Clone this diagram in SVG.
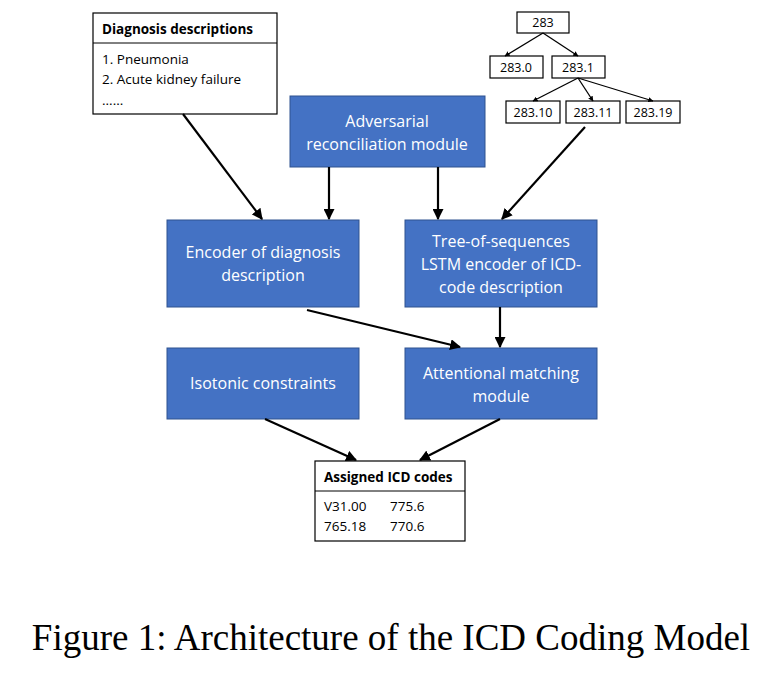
<svg xmlns="http://www.w3.org/2000/svg" width="758" height="674" viewBox="0 0 758 674">
<defs>
<marker id="ah" viewBox="0 0 10 10" refX="9" refY="5" markerWidth="5" markerHeight="5" orient="auto"><path d="M0,0 L10,5 L0,10 z" fill="#000"/></marker>
<marker id="sh" viewBox="0 0 10 10" refX="9" refY="5" markerWidth="4" markerHeight="4" orient="auto"><path d="M0,0 L10,5 L0,10 z" fill="#000"/></marker>
<style>
.blue{fill:#4472C4;stroke:#2F528F;stroke-width:1}
.bt{font-family:"Open Sans","DejaVu Sans",sans-serif;font-size:16px;fill:#fff;text-anchor:middle}
.box{fill:#fff;stroke:#000;stroke-width:1.2}
.t{font-family:"Open Sans","DejaVu Sans",sans-serif;font-size:13.5px;fill:#000}
.tt{font-family:"Open Sans","DejaVu Sans",sans-serif;font-size:12.5px;fill:#000;text-anchor:middle}
.c{stroke:#000;stroke-width:2.2;fill:none;marker-end:url(#ah)}
.s{stroke:#000;stroke-width:1.3;fill:none;marker-end:url(#sh)}
</style>
</defs>
<rect width="758" height="674" fill="#fff"/>
<g id="diag"><rect class="box" x="93" y="13" width="184" height="101"/><line x1="93" y1="43" x2="277" y2="43" stroke="#000"/>
<text class="t" x="102" y="34" font-weight="bold">Diagnosis descriptions</text>
<text class="t" x="102" y="64">1. Pneumonia</text><text class="t" x="102" y="84">2. Acute kidney failure</text><text class="t" x="102" y="105">......</text></g>
<g id="tree">
<rect class="box" x="517" y="12" width="52" height="21"/><text class="tt" x="543" y="27">283</text>
<rect class="box" x="490" y="56" width="53" height="22"/><text class="tt" x="516" y="72">283.0</text>
<rect class="box" x="552" y="56" width="53" height="22"/><text class="tt" x="578" y="72">283.1</text>
<rect class="box" x="506" y="101" width="54" height="22"/><text class="tt" x="533" y="117">283.10</text>
<rect class="box" x="566" y="101" width="54" height="22"/><text class="tt" x="593" y="117">283.11</text>
<rect class="box" x="626" y="101" width="54" height="22"/><text class="tt" x="653" y="117">283.19</text>
</g>
<g id="adv"><rect class="blue" x="290" y="96" width="195" height="71"/><text class="bt" x="387" y="127">Adversarial</text><text class="bt" x="387" y="150">reconciliation module</text></g>
<g id="enc"><rect class="blue" x="167" y="220" width="192" height="87"/><text class="bt" x="263" y="258">Encoder of diagnosis</text><text class="bt" x="263" y="281">description</text></g>
<g id="tos"><rect class="blue" x="405" y="220" width="192" height="87"/><text class="bt" x="501" y="247">Tree-of-sequences</text><text class="bt" x="501" y="270">LSTM encoder of ICD-</text><text class="bt" x="501" y="293">code description</text></g>
<g id="iso"><rect class="blue" x="167" y="348" width="192" height="71"/><text class="bt" x="263" y="389">Isotonic constraints</text></g>
<g id="att"><rect class="blue" x="405" y="348" width="192" height="71"/><text class="bt" x="501" y="379">Attentional matching</text><text class="bt" x="501" y="402">module</text></g>
<g id="out"><rect class="box" x="315" y="461" width="150" height="80"/><line x1="315" y1="491" x2="465" y2="491" stroke="#000"/>
<text class="t" x="324" y="482" font-weight="bold">Assigned ICD codes</text>
<text class="t" x="324" y="511">V31.00</text><text class="t" x="390" y="511">775.6</text>
<text class="t" x="324" y="531">765.18</text><text class="t" x="390" y="531">770.6</text></g>
<g id="connectors">
<path class="s" d="M543,33 L505,56"/><path class="s" d="M543,33 L578,56"/>
<path class="s" d="M578,78 L533,101"/><path class="s" d="M578,78 L593,101"/><path class="s" d="M578,78 L653,101"/>
<path class="c" d="M183,114 L262,219"/>
<path class="c" d="M329,167 L329,219"/>
<path class="c" d="M438,167 L438,219"/>
<path class="c" d="M585,127 L502,219"/>
<path class="c" d="M307,310 L460,347"/>
<path class="c" d="M500,307 L500,347"/>
<path class="c" d="M265,419 L356,460"/>
<path class="c" d="M500,419 L420,460"/>
</g>
<text x="391" y="650" font-family="'Liberation Serif',serif" font-size="37" text-anchor="middle">Figure 1: Architecture of the ICD Coding Model</text>
</svg>
